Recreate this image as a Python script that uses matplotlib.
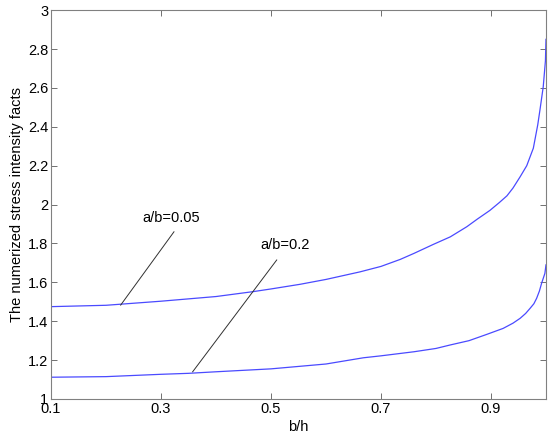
import numpy as np
import matplotlib
matplotlib.use('Agg')
import matplotlib.pyplot as plt

plt.rcParams['font.family'] = ['Liberation Sans', 'DejaVu Sans']

# upper curve, a/b=0.05
bh_1 = [0.1, 0.2, 0.3, 0.4, 0.467, 0.5, 0.553, 0.6, 0.662, 0.7, 0.735, 0.76,
        0.795, 0.826, 0.856, 0.875, 0.898, 0.915, 0.929, 0.94, 0.953, 0.965, 0.977,
        0.985, 0.989, 0.995, 0.999, 1.0]
k_1 = [1.475, 1.482, 1.503, 1.527, 1.552, 1.566, 1.59, 1.615, 1.654, 1.682, 1.718, 1.749,
       1.795, 1.834, 1.886, 1.925, 1.97, 2.01, 2.045, 2.085, 2.143, 2.2, 2.29,
       2.41, 2.486, 2.606, 2.74, 2.85]

# lower curve, a/b=0.2
bh_2 = [0.1, 0.2, 0.3, 0.35, 0.4, 0.5, 0.6, 0.668, 0.7, 0.76, 0.8, 0.826, 0.86,
        0.892, 0.922, 0.94, 0.953, 0.963, 0.971, 0.978, 0.983, 0.988, 0.992, 0.998, 1.0]
k_2 = [1.112, 1.115, 1.127, 1.132, 1.14, 1.155, 1.18, 1.212, 1.222, 1.243, 1.26, 1.278, 1.30,
       1.332, 1.363, 1.39, 1.415, 1.44, 1.466, 1.49, 1.518, 1.555, 1.595, 1.646, 1.69]

xticks = [0.1, 0.3, 0.5, 0.7, 0.9]
yticks = [1, 1.2, 1.4, 1.6, 1.8, 2, 2.2, 2.4, 2.6, 2.8, 3]
ylabels = ['1', '1.2', '1.4', '1.6', '1.8', '2', '2.2', '2.4', '2.6', '2.8', '3']

fig = plt.figure(figsize=(5.5, 4.42), dpi=100)
ax = fig.add_axes([0.0927, 0.0973, 0.9, 0.8797])

ax.plot(bh_1, k_1, color='#4a4aff', lw=0.9)
ax.plot(bh_2, k_2, color='#4a4aff', lw=0.9)

# annotation leaders
ax.plot([0.2267, 0.3236], [1.483, 1.860], color='#303030', lw=0.7)
ax.plot([0.3576, 0.5104], [1.140, 1.715], color='#303030', lw=0.7)
ax.text(0.2667, 1.93, 'a/b=0.05', fontsize=10.5, va='center', ha='left')
ax.text(0.48, 1.79, 'a/b=0.2', fontsize=10.5, va='center', ha='left')

ax.set_xlim(0.1, 1.0)
ax.set_ylim(1, 3)
ax.set_xticks(xticks)
ax.set_xticklabels([str(t) for t in xticks])
ax.set_yticks(yticks)
ax.set_yticklabels(ylabels)
ax.tick_params(direction='in', length=4, width=0.7, color='#707070',
               labelsize=10.5, top=True, right=True, pad=2)
for s in ax.spines.values():
    s.set_color('#808080')
    s.set_linewidth(0.8)

ax.set_xlabel('b/h', fontsize=10.5, labelpad=3)
ax.set_ylabel('The numerized stress intensity facts', fontsize=10.5, labelpad=3)

fig.savefig('out.png', dpi=100)
